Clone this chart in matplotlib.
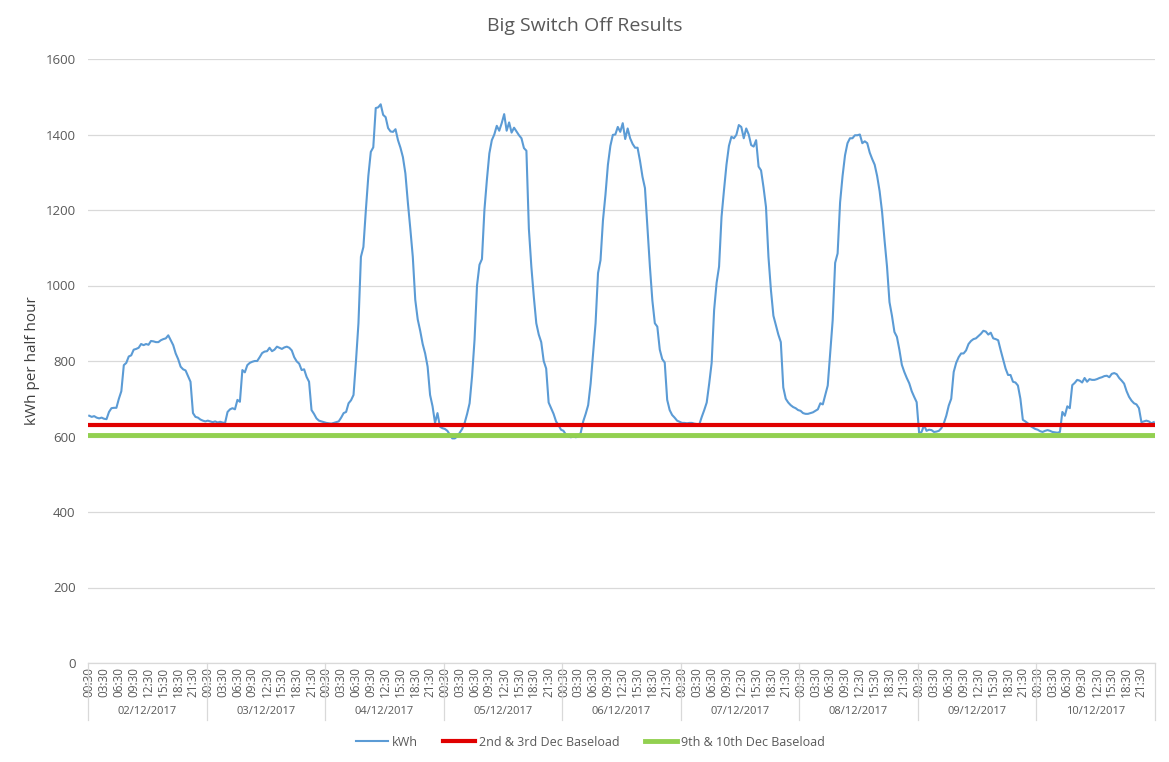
import matplotlib.pyplot as plt
import numpy as np

# half-hourly readings, 48 per day
kwh_0212 = [655, 652, 654, 650, 648, 650, 647, 646, 665, 675, 676, 676,
            700, 720, 789, 795, 812, 815, 830, 832, 835, 845, 842, 845,
            843, 853, 852, 850, 850, 855, 858, 860, 868, 855, 842, 820,
            805, 785, 778, 775, 760, 745, 662, 652, 650, 645, 642, 640]
kwh_0312 = [642, 640, 638, 640, 637, 639, 637, 636, 665, 672, 675, 672,
            697, 692, 776, 770, 789, 795, 798, 800, 800, 810, 821, 825,
            826, 835, 826, 830, 838, 835, 832, 836, 838, 835, 828, 810,
            799, 793, 776, 778, 758, 745, 670, 660, 648, 642, 640, 638]
kwh_0412 = [636, 635, 634, 636, 638, 640, 650, 662, 665, 688, 696, 710,
            800, 900, 1076, 1102, 1200, 1290, 1354, 1366, 1470, 1472, 1480, 1452,
            1446, 1417, 1408, 1407, 1414, 1385, 1365, 1340, 1297, 1220, 1150, 1076,
            962, 910, 880, 845, 820, 785, 710, 680, 636, 662, 626, 622]
kwh_0512 = [620, 615, 605, 595, 595, 600, 610, 620, 636, 660, 688, 760,
            856, 1000, 1055, 1070, 1200, 1280, 1350, 1385, 1400, 1423, 1410, 1430,
            1454, 1410, 1432, 1405, 1418, 1408, 1398, 1390, 1364, 1357, 1150, 1050,
            970, 900, 870, 850, 800, 780, 690, 675, 660, 640, 630, 618]
kwh_0612 = [615, 605, 600, 598, 600, 598, 600, 610, 640, 660, 683, 740,
            820, 900, 1033, 1067, 1173, 1240, 1320, 1370, 1399, 1400, 1420, 1407,
            1430, 1388, 1416, 1390, 1375, 1365, 1365, 1330, 1288, 1258, 1155, 1050,
            960, 900, 891, 830, 805, 796, 697, 670, 657, 650, 642, 639]
kwh_0712 = [636, 636, 635, 636, 636, 634, 633, 632, 652, 670, 690, 740,
            795, 935, 1007, 1050, 1182, 1253, 1320, 1370, 1394, 1390, 1399, 1425,
            1420, 1390, 1416, 1400, 1372, 1368, 1385, 1315, 1305, 1260, 1208, 1076,
            988, 920, 895, 870, 850, 730, 700, 690, 683, 678, 675, 670]
kwh_0812 = [668, 662, 660, 660, 662, 664, 668, 672, 688, 685, 710, 735,
            820, 908, 1060, 1085, 1220, 1290, 1345, 1377, 1390, 1390, 1398, 1398,
            1400, 1377, 1382, 1377, 1352, 1335, 1320, 1290, 1250, 1195, 1120, 1050,
            956, 920, 877, 864, 830, 790, 771, 755, 741, 720, 705, 691]
kwh_0912 = [609, 612, 630, 615, 618, 617, 612, 613, 615, 622, 635, 655,
            682, 700, 771, 795, 810, 820, 820, 828, 845, 853, 858, 860,
            866, 872, 880, 878, 870, 875, 860, 858, 855, 829, 805, 780,
            763, 763, 745, 743, 735, 700, 644, 640, 635, 628, 624, 620]
kwh_1012 = [618, 614, 612, 615, 617, 615, 612, 611, 610, 612, 665, 655,
            680, 675, 736, 742, 750, 748, 743, 755, 745, 752, 750, 750,
            752, 755, 757, 760, 761, 757, 766, 768, 765, 755, 748, 740,
            720, 705, 695, 688, 685, 675, 638, 640, 642, 640, 635, 638]

dates = ['02/12/2017', '03/12/2017', '04/12/2017', '05/12/2017', '06/12/2017',
         '07/12/2017', '08/12/2017', '09/12/2017', '10/12/2017']
time_labels = ['00:30', '03:30', '06:30', '09:30', '12:30', '15:30', '18:30', '21:30']

baseload_2_3 = 630
baseload_9_10 = 605

kwh = np.concatenate([kwh_0212, kwh_0312, kwh_0412, kwh_0512, kwh_0612,
                      kwh_0712, kwh_0812, kwh_0912, kwh_1012])
n = len(kwh)
per_day = n // len(dates)
x = np.arange(n)

txt = '#595959'
grid = '#D9D9D9'
plt.rcParams['font.family'] = ['Open Sans', 'DejaVu Sans']

fig = plt.figure(figsize=(11.69, 7.62), dpi=100)
ax = fig.add_axes([88 / 1169, 1 - 663 / 762, (1155 - 88) / 1169, (663 - 59) / 762])

ax.plot(x, kwh, color='#5B9BD5', lw=1.5, label='kWh')
ax.plot(x, np.full(n, baseload_2_3), color='#E00000', lw=3, label='2nd & 3rd Dec Baseload')
ax.plot(x, np.full(n, baseload_9_10), color='#92D050', lw=3.5, label='9th & 10th Dec Baseload')

ax.set_xlim(-0.5, n - 0.5)
ax.set_ylim(0, 1600)
ax.set_yticks(range(0, 1601, 200))
ax.grid(axis='y', color=grid, lw=0.9)
ax.set_axisbelow(True)
for s in ['left', 'right', 'top']:
    ax.spines[s].set_visible(False)
ax.spines['bottom'].set_color(grid)
ax.spines['bottom'].set_linewidth(0.9)

ticks = np.arange(0, n, 6)
ax.set_xticks(ticks)
ax.set_xticklabels([time_labels[(t % per_day) // 6] for t in ticks], rotation=90,
                   fontsize=8.5, color=txt)
ax.tick_params(axis='x', length=0, pad=3)
ax.tick_params(axis='y', length=0, pad=9, labelsize=9.5, labelcolor=txt)

# day groups under the time labels
tr = ax.get_xaxis_transform()
for d in range(len(dates) + 1):
    xb = d * per_day - 0.5
    ax.plot([xb, xb], [0, -0.094], transform=tr, color=grid, lw=0.9, clip_on=False)
for d, lab in enumerate(dates):
    ax.text(d * per_day + per_day / 2 - 0.5, -0.081, lab, transform=tr,
            ha='center', va='center', fontsize=8, color=txt)

ax.set_ylabel('kWh per half hour', fontsize=11, color='#404040', labelpad=4)
fig.text(0.5, 1 - 26 / 762, 'Big Switch Off Results', ha='center', va='center',
         fontsize=14, color=txt)

fig.legend(loc='center', bbox_to_anchor=(0.505, 1 - 742 / 762), ncol=3, frameon=False,
           fontsize=9, labelcolor=txt, handlelength=2.6, columnspacing=2.0,
           handletextpad=0.3)

fig.savefig('out.png', dpi=100)
